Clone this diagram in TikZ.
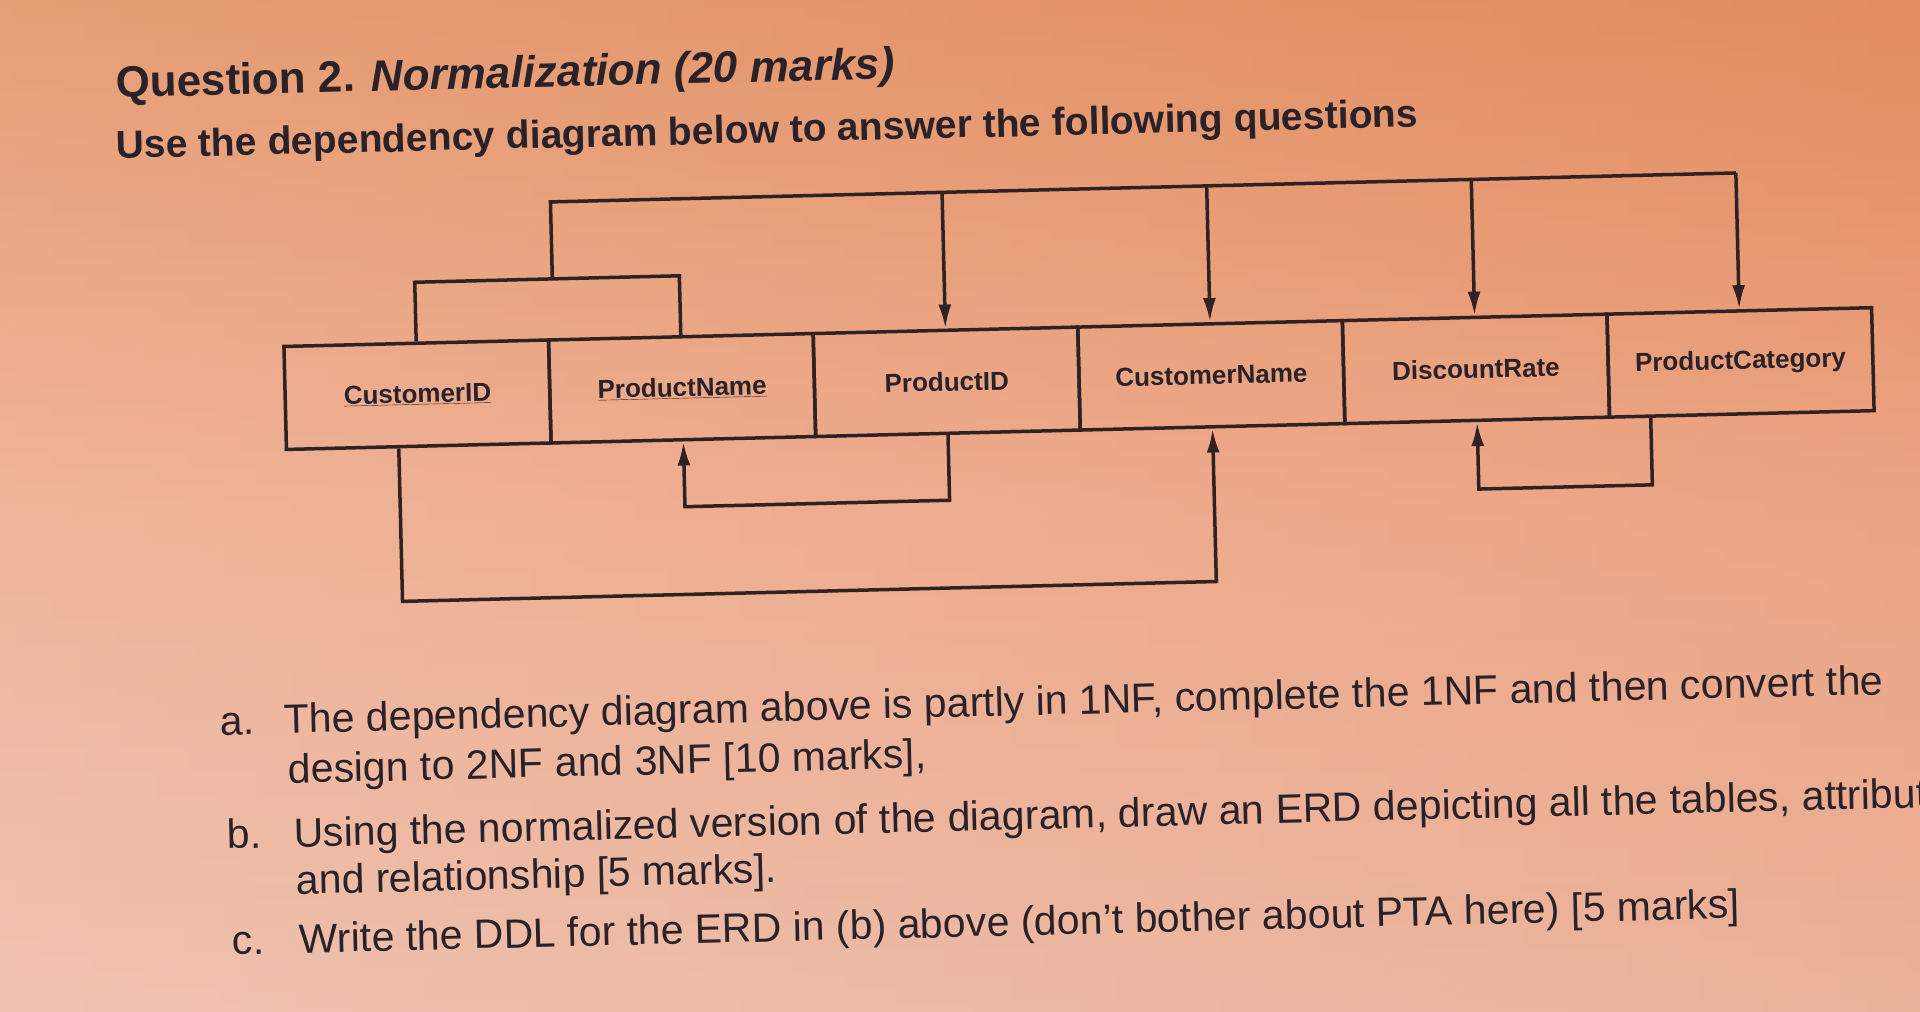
\documentclass[tikz,border=0pt]{standalone}
\usepackage{fontspec}
\setmainfont{Liberation Sans}
\usetikzlibrary{arrows.meta,calc}
\definecolor{bgtop}{RGB}{224,142,94}
\definecolor{bgmid}{RGB}{238,174,146}
\definecolor{bgbot}{RGB}{236,194,178}
\definecolor{bgleft}{RGB}{244,196,172}
\definecolor{bgright}{RGB}{232,140,98}
\definecolor{textc}{RGB}{42,34,40}
\definecolor{linec}{RGB}{48,34,34}
\begin{document}
\begin{tikzpicture}[x=1pt,y=-1pt,
  attr/.style={draw=linec,line width=3.5pt,minimum width=264.7pt,minimum height=103pt,inner sep=0pt,text=textc,font=\fontsize{26}{30}\selectfont\bfseries},
  dep/.style={draw=linec,line width=3.5pt,line join=miter},
  deparrow/.style={dep,-{Latex[length=24pt,width=13pt]}},
  listtxt/.style={anchor=base west,inner sep=0pt,text=textc,font=\fontsize{41}{48}\selectfont},
  headtxt/.style={anchor=base west,inner sep=0pt,text=textc}]
\useasboundingbox (0,0) rectangle (1920,1012);
\shade[top color=bgtop,bottom color=bgbot,middle color=bgmid] (0,0) rectangle (1920,1012);
\shade[left color=bgleft,right color=bgright,opacity=0.3] (0,0) rectangle (1920,1012);
\clip (0,0) rectangle (1920,1012);
\begin{scope}[rotate around={1.4:(960,506)},transform shape]
  % headings
  \node[headtxt,font=\fontsize{44}{50}\selectfont\bfseries] (title) at (126,77) {Question 2. \textit{Normalization (20 marks)}};
  \node[headtxt,font=\fontsize{39}{46}\selectfont\bfseries] (subtitle) at (125,138) {Use the dependency diagram below to answer the following questions};
  % attribute boxes
  \node[attr] (cid) at (420.35,381.5) {\underline{CustomerID}};
  \node[attr] (pn)  at (685.05,381.5) {\underline{ProductName}};
  \node[attr] (pid) at (949.75,381.5) {ProductID};
  \node[attr] (cn)  at (1214.45,381.5) {CustomerName};
  \node[attr] (dr)  at (1479.15,381.5) {DiscountRate};
  \node[attr] (pc)  at (1743.85,381.5) {ProductCategory};
  % top dependencies
  \coordinate (k1) at (420.35,269);
  \coordinate (k2) at (685.05,269);
  \coordinate (km) at (558,269);
  \coordinate (t0) at (558,192);
  \draw[dep] (cid.north) -- (k1) -- (k2) -- (pn.north);
  \draw[dep] (km) -- (t0) -- (t0 -| pc.north);
  \draw[deparrow] (t0 -| pid.north) -- (pid.north);
  \draw[deparrow] (t0 -| cn.north) -- (cn.north);
  \draw[deparrow] (t0 -| dr.north) -- (dr.north);
  \draw[deparrow] (t0 -| pc.north) -- (pc.north);
  % bottom dependencies
  \coordinate (l1) at (949.75,500);
  \coordinate (l2) at (685.05,500);
  \draw[deparrow] (pid.south) -- (l1) -- (l2) -- (pn.south);
  \draw[deparrow] ($(cid.south)+(-20,0)$) -- ++(0,153) -| (cn.south);
  \draw[deparrow] ($(pc.south west)+(43,0)$) -- ++(0,67) -| (dr.south);
  % questions
  \node[listtxt] (la) at (215,717) {a.};
  \node[listtxt] (ta1) at (279,717) {The dependency diagram above is partly in 1NF, complete the 1NF and then convert the};
  \node[listtxt] (ta2) at (282,767) {design to 2NF and 3NF [10 marks],};
  \node[listtxt] (lb) at (219,831) {b.};
  \node[listtxt] (tb1) at (286,831) {Using the normalized version of the diagram, draw an ERD depicting all the tables, attributes,};
  \node[listtxt] (tb2) at (287,878) {and relationship [5 marks].};
  \node[listtxt] (lc) at (222,937) {c.};
  \node[listtxt] (tc) at (289,937) {Write the DDL for the ERD in (b) above (don't bother about PTA here) [5 marks]};
\end{scope}
\end{tikzpicture}
\end{document}
